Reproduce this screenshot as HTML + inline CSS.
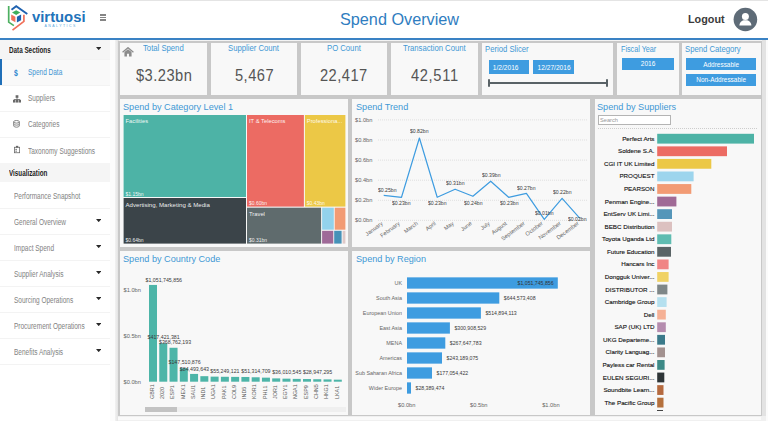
<!DOCTYPE html>
<html>
<head>
<meta charset="utf-8">
<title>Spend Overview</title>
<style>
*{box-sizing:border-box;margin:0;padding:0}
html,body{width:768px;height:421px;overflow:hidden;background:#f3f3f3;font-family:"Liberation Sans",sans-serif;}
.a{position:absolute}
.t{position:absolute;white-space:nowrap;line-height:1;transform-origin:0 0}
#hdr{left:0;top:0;width:768px;height:38px;background:#fff;border-top:1px solid #e4e4e4}
#bl{left:0;top:38px;width:768px;height:2px;background:#3a82c4}
#side{left:0;top:40px;width:110px;height:381px;background:#fff}
#strip{left:110px;top:40px;width:4.5px;height:381px;background:#fcfcfc}
#strip2{left:114.5px;top:40px;width:4px;height:381px;background:linear-gradient(90deg,#f2f2f2,#dedede)}
#canvas{left:118.4px;top:41px;width:643.6px;height:374.5px;background:#c8c8c8}
.card{position:absolute;background:#f8f8f8}
.ct{color:#4298d5;font-size:9.5px;margin-top:.9px;margin-left:.7px;transform:scaleX(.96)}
.kt{color:#4298d5;font-size:8.4px;transform:scaleX(.92);margin-top:-.2px}
.kv{color:#555;font-size:15.6px;letter-spacing:.5px;transform:scaleX(.94);margin-top:.5px}
.sh{left:0;width:110px;background:#f5f5f5}
.si{left:0;width:110px;background:#fff;border-top:1px solid #f3f3f3}
.st{font-size:8.4px;color:#828282;transform:scaleX(.775);margin-top:-.15px;margin-left:-.3px}
.sb{font-size:8.2px;color:#222;font-weight:bold;transform:scaleX(.77)}
.car{position:absolute;width:0;height:0;margin-left:.3px;border-left:2.7px solid transparent;border-right:2.7px solid transparent;border-top:3.1px solid #333}
.dl{font-size:5.4px;color:#3a3a3a;transform:scaleX(.95)}
.ax{font-size:5.7px;color:#666}
.sl{font-size:6.25px;color:#111;-webkit-text-stroke:.12px #111;text-align:right;width:60px;left:594.5px}
.bar{position:absolute;height:10px;left:657.2px}
.rl{font-size:5.8px;color:#666;text-align:right;width:70px;left:332px;transform:scaleX(.935);transform-origin:100% 0}
.rb{position:absolute;left:407px;height:11.3px;background:#3e9ce0}
.cb{position:absolute;width:8.3px;background:#4db5a8}
.cx{font-size:5.4px;color:#5c5c5c;transform:rotate(-90deg);transform-origin:0 0}
.tm{position:absolute}
.tml{font-size:5.8px;color:rgba(255,255,255,.93)}
.mo{font-size:5.7px;color:#6a6a6a;transform:rotate(-36.5deg);transform-origin:100% 0;text-align:right}
</style>
</head>
<body>
<div id="hdr" class="a"></div>
<div id="bl" class="a"></div>

<!-- logo -->
<svg class="a" style="left:0;top:0" width="40" height="38" viewBox="0 0 40 38">
  <path d="M8.7 6 L8.7 22.1 L13.9 25.6" fill="none" stroke="#4db061" stroke-width="1.7"/>
  <path d="M11.5 9.7 L16.2 6.2 L27.3 14" fill="none" stroke="#1f62b0" stroke-width="1.9"/>
  <path d="M23.9 14.8 L23.9 21.4 L12.5 30.2" fill="none" stroke="#f0705a" stroke-width="1.7"/>
  <polygon points="16.2,10.2 20.3,12.6 16.2,15.1 12,12.6" fill="#3fae5c"/>
  <polygon points="11.2,14.5 15.4,16.8 15.4,22.2 11.2,19.9" fill="#f0705a"/>
  <polygon points="16.9,16.8 21.1,14.5 21.1,20.2 16.9,22.5" fill="#1f62b0"/>
</svg>
<div class="t" style="left:31.7px;top:10.2px;font-size:14.4px;font-weight:bold;color:#2273ba;letter-spacing:0;transform:scaleX(1.03)">virtuosi</div>
<div class="t" style="left:44.5px;top:25.4px;font-size:3.5px;color:#5aa6dc;letter-spacing:1.45px">ANALYTICS</div>
<div class="a" style="left:100px;top:14.4px;width:6.2px;height:1.3px;background:#858585"></div>
<div class="a" style="left:100px;top:16.9px;width:6.2px;height:1.3px;background:#858585"></div>
<div class="a" style="left:100px;top:19.4px;width:6.2px;height:1.3px;background:#858585"></div>

<div class="t" style="left:340px;top:10.6px;font-size:16.4px;color:#2f7dc0;transform:scaleX(.99)">Spend Overview</div>
<div class="t" style="left:688px;top:14.2px;font-size:10.8px;font-weight:bold;color:#3a3a3a">Logout</div>
<svg class="a" style="left:733px;top:7px" width="25" height="25" viewBox="0 0 25 25">
  <circle cx="12.4" cy="12.5" r="11.8" fill="#5e6b77"/>
  <circle cx="12.4" cy="9.4" r="3.5" fill="#fff"/>
  <path d="M6.4 18.4 C6.6 15 9 13.6 10.6 13.2 L14.2 13.2 C15.8 13.6 18.2 15 18.4 18.4 Z" fill="#fff"/>
</svg>

<!-- sidebar -->
<div id="side" class="a"></div>
<div id="strip" class="a"></div><div id="strip2" class="a"></div>
<div class="a sh" style="top:40px;height:19px"></div>
<div class="t sb" style="left:9px;top:46.9px">Data Sections</div>
<svg class="a" style="left:95.6px;top:47.3px" width="5.4" height="3.2" viewBox="0 0 5.4 3.2"><polygon points="0,0 5.4,0 2.7,3.2" fill="#2a2a2a"/></svg>

<div class="a si" style="top:59px;height:26px;background:#f9f9f9"></div>
<div class="a" style="left:0;top:59px;width:1.8px;height:26px;background:#1f6fb8"></div>
<div class="t" style="left:13.6px;top:67.7px;font-size:9.6px;font-weight:bold;color:#2f86d0;transform:scaleX(.72)">$</div>
<div class="t st" style="left:28.3px;top:68.6px;color:#3d94d2">Spend Data</div>

<div class="a si" style="top:85px;height:26px"></div>
<svg class="a" style="left:12.8px;top:94.6px" width="8" height="8" viewBox="0 0 7 7"><rect x="2.3" y="0.2" width="2.4" height="2.3" fill="#686868"/><rect x="3.15" y="2.4" width=".7" height="2" fill="#686868"/><rect x=".8" y="3.5" width="5.4" height=".7" fill="#686868"/><rect x="0" y="4.2" width="2.1" height="2.4" fill="#686868"/><rect x="2.45" y="4.2" width="2.1" height="2.4" fill="#686868"/><rect x="4.9" y="4.2" width="2.1" height="2.4" fill="#686868"/></svg>
<div class="t st" style="left:28.3px;top:94.6px">Suppliers</div>

<div class="a si" style="top:111px;height:26px"></div>
<svg class="a" style="left:13px;top:120.3px" width="7" height="8" viewBox="0 0 7 8"><ellipse cx="3.5" cy="1.8" rx="2.8" ry="1.3" fill="none" stroke="#686868" stroke-width=".8"/><path d="M.7 1.8 V6 C.7 7.6 6.3 7.6 6.3 6 V1.8 M.7 4 C.7 5.5 6.3 5.5 6.3 4" fill="none" stroke="#686868" stroke-width=".8"/></svg>
<div class="t st" style="left:28.3px;top:120.6px">Categories</div>

<div class="a si" style="top:137px;height:26px"></div>
<svg class="a" style="left:13.8px;top:145.2px" width="6.2" height="8.6" viewBox="0 0 7 9"><rect x=".6" y="2.2" width="5.8" height="6.2" fill="none" stroke="#686868" stroke-width=".9"/><rect x="2.2" y=".6" width="2.6" height="2" fill="#686868"/><rect x="1.6" y="4" width="1.6" height="1.2" fill="#686868"/><rect x="1.6" y="6" width="1.6" height="1.2" fill="#686868"/></svg>
<div class="t st" style="left:28.3px;top:146.7px">Taxonomy Suggestions</div>

<div class="a sh" style="top:163px;height:19.5px"></div>
<div class="t sb" style="left:9px;top:170px">Visualization</div>

<div class="a si" style="top:182.3px;height:26px;border-top:none"></div>
<div class="t st" style="left:13.9px;top:191.8px">Performance Snapshot</div>
<div class="a si" style="top:208.3px;height:26px"></div>
<div class="t st" style="left:13.9px;top:217.8px">General Overview</div>
<svg class="a" style="left:95.6px;top:219.0px" width="5.4" height="3.2" viewBox="0 0 5.4 3.2"><polygon points="0,0 5.4,0 2.7,3.2" fill="#2a2a2a"/></svg>
<div class="a si" style="top:234.3px;height:26px"></div>
<div class="t st" style="left:13.9px;top:243.8px">Impact Spend</div>
<svg class="a" style="left:95.6px;top:245.0px" width="5.4" height="3.2" viewBox="0 0 5.4 3.2"><polygon points="0,0 5.4,0 2.7,3.2" fill="#2a2a2a"/></svg>
<div class="a si" style="top:260.3px;height:26px"></div>
<div class="t st" style="left:13.9px;top:269.8px">Supplier Analysis</div>
<svg class="a" style="left:95.6px;top:271.0px" width="5.4" height="3.2" viewBox="0 0 5.4 3.2"><polygon points="0,0 5.4,0 2.7,3.2" fill="#2a2a2a"/></svg>
<div class="a si" style="top:286.3px;height:26px"></div>
<div class="t st" style="left:13.9px;top:295.8px">Sourcing Operations</div>
<svg class="a" style="left:95.6px;top:297.0px" width="5.4" height="3.2" viewBox="0 0 5.4 3.2"><polygon points="0,0 5.4,0 2.7,3.2" fill="#2a2a2a"/></svg>
<div class="a si" style="top:312.3px;height:26px"></div>
<div class="t st" style="left:13.9px;top:321.8px">Procurement Operations</div>
<svg class="a" style="left:95.6px;top:323.0px" width="5.4" height="3.2" viewBox="0 0 5.4 3.2"><polygon points="0,0 5.4,0 2.7,3.2" fill="#2a2a2a"/></svg>
<div class="a si" style="top:338.3px;height:26px"></div>
<div class="t st" style="left:13.9px;top:347.8px">Benefits Analysis</div>
<svg class="a" style="left:95.6px;top:349.0px" width="5.4" height="3.2" viewBox="0 0 5.4 3.2"><polygon points="0,0 5.4,0 2.7,3.2" fill="#2a2a2a"/></svg>
<div class="a si" style="top:364.3px;height:1px"></div>

<div class="a" style="left:761.5px;top:40px;width:4.5px;height:376px;background:#e3e3e3"></div>
<div class="a" style="left:766px;top:40px;width:2px;height:381px;background:#fbfbfb"></div>
<div class="a" style="left:118px;top:415.7px;width:648px;height:5.3px;background:#f0f0f0"></div>
<div class="a" style="left:118px;top:417.3px;width:643px;height:3px;background:#fafafa"></div>
<!-- canvas -->
<div id="canvas" class="a"></div>

<!-- KPI cards -->
<div class="card" style="left:120.3px;top:42.5px;width:87.2px;height:52px"></div>
<div class="card" style="left:210.5px;top:42.5px;width:86.5px;height:52px"></div>
<div class="card" style="left:300.5px;top:42.5px;width:86.7px;height:52px"></div>
<div class="card" style="left:391px;top:42.5px;width:86.8px;height:52px"></div>
<div class="card" style="left:481.7px;top:42.5px;width:131.8px;height:52px"></div>
<div class="card" style="left:617.3px;top:42.5px;width:61.7px;height:52px"></div>
<div class="card" style="left:681.7px;top:42.5px;width:79.3px;height:52px"></div>

<svg class="a" style="left:122.3px;top:46.8px" width="12" height="10.4" viewBox="0 0 10 9"><path d="M.3 4.6 L5 .6 L9.7 4.6" fill="none" stroke="#8c8c8c" stroke-width="1.1"/><path d="M1.9 4.4 L5 1.9 L8.1 4.4 V8.3 H5.9 V5.8 H4.1 V8.3 H1.9 Z" fill="#8c8c8c"/></svg>
<div class="t kt" style="left:142.8px;top:44.6px">Total Spend</div>
<div class="t kv" style="left:135.5px;top:67.5px">$3.23bn</div>
<div class="t kt" style="left:228px;top:44.6px">Supplier Count</div>
<div class="t kv" style="left:234.5px;top:67.5px">5,467</div>
<div class="t kt" style="left:327px;top:44.6px">PO Count</div>
<div class="t kv" style="left:319.5px;top:67.5px">22,417</div>
<div class="t kt" style="left:402.5px;top:44.6px">Transaction Count</div>
<div class="t kv" style="left:410.6px;top:67.5px;letter-spacing:.7px">42,511</div>

<div class="t kt" style="left:484.5px;top:45px">Period Slicer</div>
<div class="a" style="left:488.7px;top:59.8px;width:40.8px;height:14.3px;background:#3e9ce0"></div>
<div class="a" style="left:533.3px;top:59.8px;width:41.2px;height:14.3px;background:#3e9ce0"></div>
<div class="t" style="left:492.8px;top:64.5px;font-size:6.6px;color:#fff">1/2/2016</div>
<div class="t" style="left:537.6px;top:64.5px;font-size:6.6px;color:#fff">12/27/2016</div>
<div class="a" style="left:489px;top:82.3px;width:118px;height:1.4px;background:#596266"></div>
<div class="a" style="left:488.3px;top:78.5px;width:2.1px;height:8.6px;border-radius:1px;background:#596266"></div>
<div class="a" style="left:605.9px;top:78.5px;width:2.1px;height:8.6px;border-radius:1px;background:#596266"></div>

<div class="t kt" style="left:620.5px;top:45px;transform:scaleX(.86)">Fiscal Year</div>
<div class="a" style="left:622.3px;top:58.4px;width:51.5px;height:11.8px;background:#3e9ce0"></div>
<div class="t" style="left:622.3px;top:61.3px;width:51.5px;text-align:center;font-size:6.5px;color:#fff">2016</div>

<div class="t kt" style="left:685px;top:45px">Spend Category</div>
<div class="a" style="left:686px;top:58px;width:70.3px;height:12px;background:#3e9ce0"></div>
<div class="t" style="left:686px;top:61.6px;width:70.3px;text-align:center;font-size:6.45px;color:#fff">Addressable</div>
<div class="a" style="left:686px;top:73.6px;width:70.3px;height:12px;background:#3e9ce0"></div>
<div class="t" style="left:686px;top:77px;width:70.3px;text-align:center;font-size:6.45px;color:#fff">Non-Addressable</div>

<!-- row 2/3 cards -->
<div class="card" style="left:120.3px;top:98.8px;width:228px;height:148.7px"></div>
<div class="card" style="left:352px;top:98.8px;width:238px;height:148.7px"></div>
<div class="card" style="left:594.5px;top:98.8px;width:166.5px;height:316px"></div>
<div class="card" style="left:120.3px;top:251.3px;width:228px;height:163.5px"></div>
<div class="card" style="left:352px;top:251.3px;width:238px;height:163.5px"></div>

<!-- treemap -->
<div class="t ct" style="left:122.5px;top:101.4px">Spend by Category Level 1</div>
<svg class="a" style="left:0;top:0" width="768" height="421" viewBox="0 0 768 421"><rect x="123.6" y="115" width="122.40" height="82.00" fill="#4db3a6"/><rect x="123.6" y="198.0" width="122.40" height="45.60" fill="#3b4449"/><rect x="247.0" y="115" width="56.90" height="91.60" fill="#ec6b63"/><rect x="304.9" y="115" width="40.50" height="91.60" fill="#ecc846"/><rect x="247.0" y="207.7" width="74.10" height="35.90" fill="#5f6b6d"/><rect x="322.1" y="207.7" width="11.70" height="22.00" fill="#93d2ec"/><rect x="334.7" y="207.7" width="10.70" height="22.00" fill="#f29b74"/><rect x="322.1" y="230.8" width="11.20" height="12.80" fill="#9f6a98"/><rect x="334.2" y="230.8" width="7.40" height="12.80" fill="#4692b8"/><rect x="342.6" y="230.8" width="2.80" height="12.80" fill="#dec9c8"/></svg>
<div class="t tml" style="left:125.5px;top:118.6px">Facilities</div>
<div class="t tml" style="left:125.5px;top:191.8px;font-size:5px">$1.15bn</div>
<div class="t tml" style="left:125.5px;top:202px;font-size:6.1px">Advertising, Marketing &amp; Media</div>
<div class="t tml" style="left:125.5px;top:238.3px;font-size:5px">$0.64bn</div>
<div class="t tml" style="left:249px;top:118.6px">IT &amp; Telecoms</div>
<div class="t tml" style="left:249px;top:201.3px;font-size:5px">$0.60bn</div>
<div class="t tml" style="left:306.8px;top:118.6px">Professiona...</div>
<div class="t tml" style="left:306.8px;top:201.3px;font-size:5px">$0.43bn</div>
<div class="t tml" style="left:249px;top:211.6px">Travel</div>
<div class="t tml" style="left:249px;top:238.3px;font-size:5px">$0.31bn</div>

<!-- trend -->
<div class="t ct" style="left:355px;top:101.4px">Spend Trend</div>
<svg class="a" style="left:352px;top:98.8px" width="238" height="148.2" viewBox="352 98.8 238 148.2">
  <g stroke="#d4d4d4" stroke-width=".7" stroke-dasharray="1 1">
    <line x1="378" x2="588" y1="119.7" y2="119.7"/><line x1="378" x2="588" y1="139.8" y2="139.8"/><line x1="378" x2="588" y1="159.9" y2="159.9"/><line x1="378" x2="588" y1="180" y2="180"/><line x1="378" x2="588" y1="200.1" y2="200.1"/><line x1="378" x2="588" y1="220.2" y2="220.2"/>
  </g>
  <polyline fill="none" stroke="#3e9ce0" stroke-width="1.2" stroke-linejoin="round" points="383.7,195.1 401.5,197.1 419.4,137.8 437.2,197.1 455.1,189 472.9,196.1 490.7,181 508.6,197.1 526.4,193.1 544.3,219.2 562.1,198.1 579.9,218.2"/>
</svg>
<div class="t ax" style="left:355px;top:117.7px">$1.0bn</div>
<div class="t ax" style="left:355px;top:137.8px">$0.8bn</div>
<div class="t ax" style="left:355px;top:157.9px">$0.6bn</div>
<div class="t ax" style="left:355px;top:178.0px">$0.4bn</div>
<div class="t ax" style="left:355px;top:198.1px">$0.2bn</div>
<div class="t ax" style="left:355px;top:218.2px">$0.0bn</div>
<div class="t dl" style="left:378px;top:187.9px">$0.25bn</div>
<div class="t dl" style="left:392px;top:200.6px">$0.23bn</div>
<div class="t dl" style="left:410.3px;top:128.5px">$0.82bn</div>
<div class="t dl" style="left:428px;top:200.6px">$0.23bn</div>
<div class="t dl" style="left:446.3px;top:180.8px">$0.31bn</div>
<div class="t dl" style="left:463.7px;top:200.6px">$0.24bn</div>
<div class="t dl" style="left:481.7px;top:173.4px">$0.39bn</div>
<div class="t dl" style="left:499.5px;top:200.6px">$0.23bn</div>
<div class="t dl" style="left:517.3px;top:185.5px">$0.27bn</div>
<div class="t dl" style="left:535px;top:210.6px">$0.01bn</div>
<div class="t dl" style="left:553px;top:189.6px">$0.22bn</div>
<div class="t dl" style="left:567.5px;top:216.6px">$0.02bn</div>
<div class="t mo" style="left:330.5px;top:220.8px;width:50px">January</div>
<div class="t mo" style="left:348.3px;top:220.8px;width:50px">February</div>
<div class="t mo" style="left:366.2px;top:220.8px;width:50px">March</div>
<div class="t mo" style="left:384.0px;top:220.8px;width:50px">April</div>
<div class="t mo" style="left:401.9px;top:220.8px;width:50px">May</div>
<div class="t mo" style="left:419.7px;top:220.8px;width:50px">June</div>
<div class="t mo" style="left:437.5px;top:220.8px;width:50px">July</div>
<div class="t mo" style="left:455.4px;top:220.8px;width:50px">August</div>
<div class="t mo" style="left:473.2px;top:220.8px;width:50px">September</div>
<div class="t mo" style="left:491.1px;top:220.8px;width:50px">October</div>
<div class="t mo" style="left:508.9px;top:220.8px;width:50px">November</div>
<div class="t mo" style="left:526.7px;top:220.8px;width:50px">December</div>

<!-- suppliers -->
<div class="t ct" style="left:596.2px;top:101px">Spend by Suppliers</div>
<div class="a" style="left:598.2px;top:115px;width:72.4px;height:9.6px;background:#fff;border:1px solid #b4b4b4"></div>
<div class="t" style="left:600px;top:117.7px;font-size:5.7px;color:#999">Search</div>
<div class="a" style="left:598px;top:128.3px;width:159px;height:0;border-top:1px dotted #cdcdcd"></div>
<div id="sup">
<svg class="a" style="left:0;top:0" width="768" height="421" viewBox="0 0 768 421"><rect x="657.2" y="133.80" width="96.8" height="9.8" fill="#4db3a6"/><rect x="657.2" y="146.37" width="69.8" height="9.8" fill="#ec6b63"/><rect x="657.2" y="158.93" width="54.1" height="9.8" fill="#ecc846"/><rect x="657.2" y="171.50" width="36.4" height="9.8" fill="#9dd5ed"/><rect x="657.2" y="184.07" width="34.1" height="9.8" fill="#f29b74"/><rect x="657.2" y="196.64" width="19.2" height="9.8" fill="#a06a96"/><rect x="657.2" y="209.20" width="14.8" height="9.8" fill="#5596b9"/><rect x="657.2" y="221.77" width="14.8" height="9.8" fill="#dcc1c0"/><rect x="657.2" y="234.34" width="14.1" height="9.8" fill="#5fbcb1"/><rect x="657.2" y="246.90" width="13.8" height="9.8" fill="#5a6466"/><rect x="657.2" y="259.47" width="11.4" height="9.8" fill="#f08585"/><rect x="657.2" y="272.04" width="11.4" height="9.8" fill="#f0d264"/><rect x="657.2" y="284.60" width="10.2" height="9.8" fill="#7f8788"/><rect x="657.2" y="297.17" width="9.4" height="9.8" fill="#b5e0ef"/><rect x="657.2" y="309.74" width="8.6" height="9.8" fill="#f5b196"/><rect x="657.2" y="322.31" width="8.6" height="9.8" fill="#b58cae"/><rect x="657.2" y="334.87" width="7.8" height="9.8" fill="#3b7a8a"/><rect x="657.2" y="347.44" width="7.8" height="9.8" fill="#a39290"/><rect x="657.2" y="360.01" width="7.4" height="9.8" fill="#3d8a87"/><rect x="657.2" y="372.57" width="7.1" height="9.8" fill="#2e3537"/><rect x="657.2" y="385.14" width="6.3" height="9.8" fill="#b56a3f"/><rect x="657.2" y="397.71" width="6.3" height="9.8" fill="#b5713d"/></svg>
<div class="t sl" style="top:135.7px">Perfect Arts</div>
<div class="t sl" style="top:148.3px">Soldene S.A.</div>
<div class="t sl" style="top:160.8px">CGI IT UK Limited</div>
<div class="t sl" style="top:173.4px">PROQUEST</div>
<div class="t sl" style="top:186.0px">PEARSON</div>
<div class="t sl" style="top:198.5px">Penman Engine...</div>
<div class="t sl" style="top:211.1px">EntServ UK Limi...</div>
<div class="t sl" style="top:223.7px">BEBC Distribution</div>
<div class="t sl" style="top:236.2px">Toyota Uganda Ltd</div>
<div class="t sl" style="top:248.8px">Future Education</div>
<div class="t sl" style="top:261.4px">Hancars Inc</div>
<div class="t sl" style="top:273.9px">Dongguk Univer...</div>
<div class="t sl" style="top:286.5px">DISTRIBUTOR ...</div>
<div class="t sl" style="top:299.1px">Cambridge Group</div>
<div class="t sl" style="top:311.6px">Dell</div>
<div class="t sl" style="top:324.2px">SAP (UK) LTD</div>
<div class="t sl" style="top:336.8px">UKG Departeme...</div>
<div class="t sl" style="top:349.3px">Clarity Languag...</div>
<div class="t sl" style="top:361.9px">Payless car Rental</div>
<div class="t sl" style="top:374.5px">EULEN SEGURI...</div>
<div class="t sl" style="top:387.0px">Soundbite Learn...</div>
<div class="t sl" style="top:399.6px">The Pacific Group</div>
<div class="a" style="left:657.2px;top:410px;width:5.5px;height:1px;background:#444"></div>
</div><!--/sup-->

<!-- country -->
<div class="t ct" style="left:122.5px;top:253.6px">Spend by Country Code</div>
<div id="cty">
<svg class="a" style="left:0;top:0" width="768" height="421" viewBox="0 0 768 421"><g fill="#4db5a8"><rect x="149.00" y="284.94" width="8" height="96.76"/><rect x="159.27" y="343.30" width="8" height="38.40"/><rect x="169.53" y="347.77" width="8" height="33.93"/><rect x="179.80" y="368.13" width="8" height="13.57"/><rect x="190.07" y="373.93" width="8" height="7.77"/><rect x="200.33" y="376.18" width="8" height="5.52"/><rect x="210.60" y="376.62" width="8" height="5.08"/><rect x="220.87" y="376.78" width="8" height="4.92"/><rect x="231.14" y="376.89" width="8" height="4.81"/><rect x="241.40" y="376.98" width="8" height="4.72"/><rect x="251.67" y="377.28" width="8" height="4.42"/><rect x="261.94" y="377.65" width="8" height="4.05"/><rect x="272.20" y="378.39" width="8" height="3.31"/><rect x="282.47" y="378.66" width="8" height="3.04"/><rect x="292.74" y="378.89" width="8" height="2.81"/><rect x="303.00" y="379.04" width="8" height="2.66"/><rect x="313.27" y="379.22" width="8" height="2.48"/><rect x="323.54" y="379.40" width="8" height="2.30"/><rect x="333.81" y="379.68" width="8" height="2.02"/></g></svg>
<div class="t cx" style="left:149.7px;top:399.3px">GBR1</div>
<div class="t cx" style="left:160.0px;top:399.3px">2020</div>
<div class="t cx" style="left:170.2px;top:399.3px">ESP1</div>
<div class="t cx" style="left:180.5px;top:399.3px">MEX1</div>
<div class="t cx" style="left:190.8px;top:399.3px">SAU1</div>
<div class="t cx" style="left:201.0px;top:399.3px">IND1</div>
<div class="t cx" style="left:211.3px;top:399.3px">UGA1</div>
<div class="t cx" style="left:221.6px;top:399.3px">PAK1</div>
<div class="t cx" style="left:231.8px;top:399.3px">COL9</div>
<div class="t cx" style="left:242.1px;top:399.3px">IND5</div>
<div class="t cx" style="left:252.4px;top:399.3px">KOR1</div>
<div class="t cx" style="left:262.6px;top:399.3px">PHL1</div>
<div class="t cx" style="left:272.9px;top:399.3px">JOR1</div>
<div class="t cx" style="left:283.2px;top:399.3px">EGY1</div>
<div class="t cx" style="left:293.4px;top:399.3px">NGA1</div>
<div class="t cx" style="left:303.7px;top:399.3px">ESP9</div>
<div class="t cx" style="left:314.0px;top:399.3px">CHN5</div>
<div class="t cx" style="left:324.2px;top:399.3px">HKG1</div>
<div class="t cx" style="left:334.5px;top:399.3px">LKA1</div>
<div class="t ax" style="left:123.5px;top:287.8px">$1.0bn</div>
<div class="t ax" style="left:123.5px;top:333.8px">$0.5bn</div>
<div class="t ax" style="left:123.5px;top:379.8px">$0.0bn</div>
<div class="t dl" style="left:145.5px;top:277.6px;font-size:5.25px;transform:none">$1,051,745,856</div>
<div class="t dl" style="left:147.6px;top:335.3px;font-size:5.25px;transform:none">$417,421,381</div>
<div class="t dl" style="left:159px;top:340.3px;font-size:5.25px;transform:none">$368,762,193</div>
<div class="t dl" style="left:168.5px;top:360.3px;font-size:5.25px;transform:none">$147,510,876</div>
<div class="t dl" style="left:179.8px;top:366.6px;font-size:5.25px;transform:none">$84,493,643</div>
<div class="t dl" style="left:210.3px;top:368.7px;font-size:5.25px;transform:none">$55,249,121</div>
<div class="t dl" style="left:241.3px;top:368.7px;font-size:5.25px;transform:none">$51,314,709</div>
<div class="t dl" style="left:272.2px;top:369.6px;font-size:5.25px;transform:none">$36,010,545</div>
<div class="t dl" style="left:303px;top:369.6px;font-size:5.25px;transform:none">$28,947,295</div>
<div class="a" style="left:145px;top:406.8px;width:201px;height:4.8px;background:#efefef"></div>
<div class="a" style="left:145px;top:406.8px;width:31.7px;height:4.8px;background:#c3c3c3"></div>
</div><!--/cty-->

<!-- region -->
<div class="t ct" style="left:355px;top:253.6px">Spend by Region</div>
<div id="reg">
<svg class="a" style="left:0;top:0" width="768" height="421" viewBox="0 0 768 421"><g fill="#3e9ce0"><rect x="407" y="277.35" width="150.8" height="11.3"/><rect x="407" y="292.35" width="92.3" height="11.3"/><rect x="407" y="307.35" width="73.9" height="11.3"/><rect x="407" y="322.35" width="42.9" height="11.3"/><rect x="407" y="337.35" width="38.3" height="11.3"/><rect x="407" y="352.35" width="35.0" height="11.3"/><rect x="407" y="367.35" width="25.0" height="11.3"/><rect x="407" y="382.35" width="4.0" height="11.3"/></g></svg>
<div class="t rl" style="top:281.0px">UK</div>
<div class="t dl" style="left:453.6px;width:100px;text-align:right;top:281.4px;font-size:5.2px;transform:none;color:#333">$1,051,745,856</div>
<div class="t rl" style="top:296.0px">South Asia</div>
<div class="t dl" style="left:503.8px;top:296.4px;font-size:5.2px;transform:none">$644,573,408</div>
<div class="t rl" style="top:311.0px">European Union</div>
<div class="t dl" style="left:485.4px;top:311.4px;font-size:5.2px;transform:none">$514,894,113</div>
<div class="t rl" style="top:326.0px">East Asia</div>
<div class="t dl" style="left:454.4px;top:326.4px;font-size:5.2px;transform:none">$300,908,529</div>
<div class="t rl" style="top:341.0px">MENA</div>
<div class="t dl" style="left:449.8px;top:341.4px;font-size:5.2px;transform:none">$267,647,783</div>
<div class="t rl" style="top:356.0px">Americas</div>
<div class="t dl" style="left:446.5px;top:356.4px;font-size:5.2px;transform:none">$243,189,075</div>
<div class="t rl" style="top:371.0px">Sub Saharan Africa</div>
<div class="t dl" style="left:436.5px;top:371.4px;font-size:5.2px;transform:none">$177,054,422</div>
<div class="t rl" style="top:386.0px">Wider Europe</div>
<div class="t dl" style="left:415.5px;top:386.4px;font-size:5.2px;transform:none">$28,389,474</div>
<div class="t ax" style="left:386.7px;width:40px;text-align:center;top:403.3px">$0.0bn</div>
<div class="t ax" style="left:458.8px;width:40px;text-align:center;top:403.3px">$0.5bn</div>
<div class="t ax" style="left:530.9px;width:40px;text-align:center;top:403.3px">$1.0bn</div>
</div><!--/reg-->

</body>
</html>
